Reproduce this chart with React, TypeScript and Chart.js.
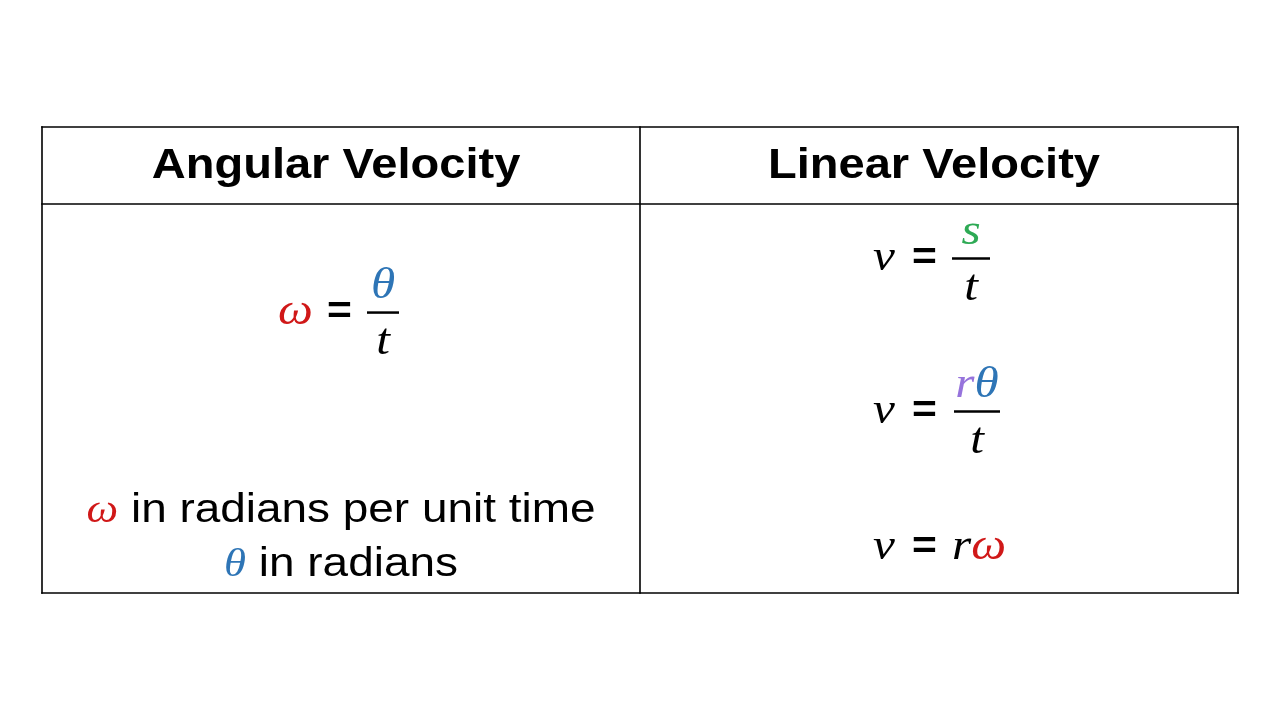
import React, { useEffect, useRef } from "react";
import { Chart, registerables } from "chart.js";

Chart.register(...registerables);

// ---------- content ----------
const headers = ["Angular Velocity", "Linear Velocity"];

// symbol runs: [text, colourKey]
const angularLhs = [["ω", "red"]];
const angularNum = [["θ", "blue"]];
const angularDen = [["t", "ink"]];

const linear1Lhs = [["v", "ink"]];
const linear1Num = [["s", "green"]];
const linear1Den = [["t", "ink"]];

const linear2Lhs = [["v", "ink"]];
const linear2Num = [["r", "purple"], ["θ", "blue"]];
const linear2Den = [["t", "ink"]];

const linear3Lhs = [["v", "ink"]];
const linear3Rhs = [["r", "ink"], ["ω", "red"]];

const noteSymbols = ["ω", "θ"];
const noteSymbolColors = ["red", "blue"];
const noteTexts = [" in radians per unit time", " in radians"];

// ---------- layout & style ----------
const W = 1280;
const H = 720;
const TABLE = { cols: [42, 640, 1238], rows: [127, 204, 593] };
const COLORS: Record<string, string> = {
  ink: "#000000",
  red: "#D01818",
  blue: "#2E75B6",
  green: "#2EAA55",
  purple: "#9673DC",
};
const SX = 1.12; // horizontal stretch of the slide text
const HEAD_FONT = "bold 42px 'Liberation Sans', Arial, sans-serif";
const BODY_FONT = "41px 'Liberation Sans', Arial, sans-serif";
const MATH_FS = 44;
const MATH_FONT = `italic ${MATH_FS}px 'Liberation Serif', 'Times New Roman', serif`;
const NOTE_MATH_FONT = "italic 40px 'Liberation Serif', 'Times New Roman', serif";
const EQ_FONT = "bold 38px 'Liberation Sans', Arial, sans-serif";
const HEAD_BASE = 178;
const HEAD_SHIFT = -5;
const NOTE_BASES = [522, 576];
const BAR_RISE = 0.26;
const NUM_GAP = 0.32;
const DEN_DROP = 0.95;

type Run = string[][];
interface FormulaLayout {
  lhs: Run;
  num?: Run;
  den?: Run;
  rhs?: Run;
  x: number;
  base: number;
  eqX: number;
  barX: number;
  barW: number;
}

const formulas: FormulaLayout[] = [
  { lhs: angularLhs, num: angularNum, den: angularDen, x: 278, base: 324, eqX: 327, barX: 367, barW: 32 },
  { lhs: linear1Lhs, num: linear1Num, den: linear1Den, x: 873, base: 270, eqX: 912, barX: 952, barW: 38 },
  { lhs: linear2Lhs, num: linear2Num, den: linear2Den, x: 873, base: 423, eqX: 912, barX: 954, barW: 46 },
  { lhs: linear3Lhs, rhs: linear3Rhs, x: 873, base: 559, eqX: 912, barX: 952, barW: 0 },
];

function runWidth(ctx: CanvasRenderingContext2D, run: Run, font: string) {
  ctx.font = font;
  let w = 0;
  for (const [t] of run) w += ctx.measureText(t).width * SX;
  return w;
}

function drawRun(ctx: CanvasRenderingContext2D, run: Run, x: number, y: number, font: string) {
  ctx.font = font;
  let cx = x;
  for (const [t, c] of run) {
    ctx.save();
    ctx.translate(cx, y);
    ctx.scale(SX, 1);
    ctx.fillStyle = COLORS[c] || c;
    ctx.textAlign = "left";
    ctx.textBaseline = "alphabetic";
    ctx.fillText(t, 0, 0);
    ctx.restore();
    cx += ctx.measureText(t).width * SX;
  }
  return cx;
}

function drawCentered(ctx: CanvasRenderingContext2D, run: Run, cx: number, y: number, font: string) {
  const w = runWidth(ctx, run, font);
  drawRun(ctx, run, cx - w / 2, y, font);
}

const textPlugin = {
  id: "slideText",
  afterDatasetsDraw(chart: any) {
    const ctx: CanvasRenderingContext2D = chart.ctx;
    const xs = chart.scales.x;
    const ys = chart.scales.y;
    const px = (v: number) => xs.getPixelForValue(v);
    const py = (v: number) => ys.getPixelForValue(v);
    ctx.save();

    // headers
    headers.forEach((h, i) => {
      const cx = (TABLE.cols[i] + TABLE.cols[i + 1]) / 2 + HEAD_SHIFT;
      drawCentered(ctx, [[h, "ink"]], px(cx), py(HEAD_BASE), HEAD_FONT);
    });

    // formulas
    for (const f of formulas) {
      const base = py(f.base);
      drawRun(ctx, f.lhs, px(f.x), base, MATH_FONT);
      drawRun(ctx, [["=", "ink"]], px(f.eqX), py(f.base - 1), EQ_FONT);
      if (f.num && f.den) {
        const barV = f.base - MATH_FS * BAR_RISE;
        const barY = py(barV);
        ctx.strokeStyle = "#000";
        ctx.lineWidth = 2.5;
        ctx.beginPath();
        ctx.moveTo(px(f.barX), barY);
        ctx.lineTo(px(f.barX + f.barW), barY);
        ctx.stroke();
        const cx = px(f.barX + f.barW / 2);
        drawCentered(ctx, f.num, cx, py(barV - MATH_FS * NUM_GAP), MATH_FONT);
        drawCentered(ctx, f.den, cx, py(barV + MATH_FS * DEN_DROP), MATH_FONT);
      } else if (f.rhs) {
        drawRun(ctx, f.rhs, px(f.barX), base, MATH_FONT);
      }
    }

    // notes
    const cx = (TABLE.cols[0] + TABLE.cols[1]) / 2;
    noteTexts.forEach((t, i) => {
      const symW = runWidth(ctx, [[noteSymbols[i], "ink"]], NOTE_MATH_FONT);
      const txtW = runWidth(ctx, [[t, "ink"]], BODY_FONT);
      const start = px(cx) - (symW + txtW) / 2;
      const y = py(NOTE_BASES[i]);
      drawRun(ctx, [[noteSymbols[i], noteSymbolColors[i]]], start, y, NOTE_MATH_FONT);
      drawRun(ctx, [[t, "ink"]], start + symW, y, BODY_FONT);
    });

    ctx.restore();
  },
};

function tableSegments() {
  const sets: any[] = [];
  const { cols, rows } = TABLE;
  rows.forEach((r) => {
    sets.push({ data: [{ x: cols[0], y: r }, { x: cols[cols.length - 1], y: r }] });
  });
  cols.forEach((c) => {
    sets.push({ data: [{ x: c, y: rows[0] }, { x: c, y: rows[rows.length - 1] }] });
  });
  return sets.map((s) => ({
    ...s,
    showLine: true,
    borderColor: "#000000",
    borderWidth: 1.6,
    pointRadius: 0,
    borderCapStyle: "square",
  }));
}

export default function App() {
  const ref = useRef<HTMLCanvasElement | null>(null);
  useEffect(() => {
    document.body.style.margin = "0";
    document.body.style.background = "#ffffff";
    const canvas = ref.current!;
    const chart = new Chart(canvas, {
      type: "scatter",
      data: { datasets: tableSegments() },
      options: {
        animation: false,
        responsive: false,
        maintainAspectRatio: false,
        layout: { padding: 0 },
        plugins: { legend: { display: false }, tooltip: { enabled: false }, title: { display: false } },
        scales: {
          x: { type: "linear", min: 0, max: W, display: false },
          y: { type: "linear", min: 0, max: H, reverse: true, display: false },
        },
      },
      plugins: [textPlugin],
    });
    return () => chart.destroy();
  }, []);
  return (
    <div style={{ width: W, height: H, background: "#fff" }}>
      <canvas ref={ref} width={W} height={H} style={{ display: "block", width: W, height: H }} />
    </div>
  );
}
